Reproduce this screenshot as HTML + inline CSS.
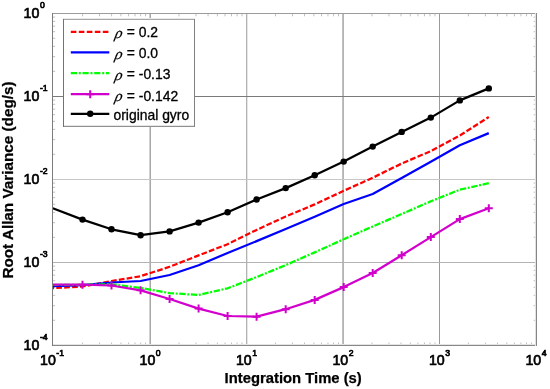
<!DOCTYPE html>
<html><head><meta charset="utf-8"><title>Root Allan Variance</title>
<style>html,body{margin:0;padding:0;background:#fff}svg{display:block}</style></head>
<body>
<svg width="550" height="389" viewBox="0 0 550 389">
<rect width="550" height="389" fill="#fff"/>
<rect x="149" y="13.6" width="1" height="331.6" fill="#d0d0d0"/>
<rect x="150" y="13.6" width="1" height="331.6" fill="#a8a8a8"/>
<rect x="246" y="13.6" width="1" height="331.6" fill="#b2b2b2"/>
<rect x="247" y="13.6" width="1" height="331.6" fill="#e6e6e6"/>
<rect x="342" y="13.6" width="1" height="331.6" fill="#c0c0c0"/>
<rect x="343" y="13.6" width="1" height="331.6" fill="#b4b4b4"/>
<rect x="439" y="13.6" width="1" height="331.6" fill="#9a9a9a"/>
<rect x="52.5" y="96" width="483.8" height="1" fill="#7a7a7a"/>
<rect x="52.5" y="179" width="483.8" height="1" fill="#c6c6c6"/>
<rect x="52.5" y="262" width="483.8" height="1" fill="#b2b2b2"/>
<g stroke="#b0b0b0" stroke-width="0.8" fill="none">
<path d="M82.54 345.2v-2.7M82.54 13.6v2.7"/>
<path d="M99.53 345.2v-2.7M99.53 13.6v2.7"/>
<path d="M111.58 345.2v-2.7M111.58 13.6v2.7"/>
<path d="M120.93 345.2v-2.7M120.93 13.6v2.7"/>
<path d="M128.57 345.2v-2.7M128.57 13.6v2.7"/>
<path d="M135.03 345.2v-2.7M135.03 13.6v2.7"/>
<path d="M140.62 345.2v-2.7M140.62 13.6v2.7"/>
<path d="M145.56 345.2v-2.7M145.56 13.6v2.7"/>
<path d="M179.01 345.2v-2.7M179.01 13.6v2.7"/>
<path d="M196.00 345.2v-2.7M196.00 13.6v2.7"/>
<path d="M208.05 345.2v-2.7M208.05 13.6v2.7"/>
<path d="M217.40 345.2v-2.7M217.40 13.6v2.7"/>
<path d="M225.04 345.2v-2.7M225.04 13.6v2.7"/>
<path d="M231.50 345.2v-2.7M231.50 13.6v2.7"/>
<path d="M237.09 345.2v-2.7M237.09 13.6v2.7"/>
<path d="M242.03 345.2v-2.7M242.03 13.6v2.7"/>
<path d="M275.48 345.2v-2.7M275.48 13.6v2.7"/>
<path d="M292.47 345.2v-2.7M292.47 13.6v2.7"/>
<path d="M304.52 345.2v-2.7M304.52 13.6v2.7"/>
<path d="M313.87 345.2v-2.7M313.87 13.6v2.7"/>
<path d="M321.51 345.2v-2.7M321.51 13.6v2.7"/>
<path d="M327.97 345.2v-2.7M327.97 13.6v2.7"/>
<path d="M333.56 345.2v-2.7M333.56 13.6v2.7"/>
<path d="M338.50 345.2v-2.7M338.50 13.6v2.7"/>
<path d="M371.95 345.2v-2.7M371.95 13.6v2.7"/>
<path d="M388.94 345.2v-2.7M388.94 13.6v2.7"/>
<path d="M400.99 345.2v-2.7M400.99 13.6v2.7"/>
<path d="M410.34 345.2v-2.7M410.34 13.6v2.7"/>
<path d="M417.98 345.2v-2.7M417.98 13.6v2.7"/>
<path d="M424.44 345.2v-2.7M424.44 13.6v2.7"/>
<path d="M430.03 345.2v-2.7M430.03 13.6v2.7"/>
<path d="M434.97 345.2v-2.7M434.97 13.6v2.7"/>
<path d="M468.42 345.2v-2.7M468.42 13.6v2.7"/>
<path d="M485.41 345.2v-2.7M485.41 13.6v2.7"/>
<path d="M497.46 345.2v-2.7M497.46 13.6v2.7"/>
<path d="M506.81 345.2v-2.7M506.81 13.6v2.7"/>
<path d="M514.45 345.2v-2.7M514.45 13.6v2.7"/>
<path d="M520.91 345.2v-2.7M520.91 13.6v2.7"/>
<path d="M526.50 345.2v-2.7M526.50 13.6v2.7"/>
<path d="M531.44 345.2v-2.7M531.44 13.6v2.7"/>
<path d="M52.5 320.31h2.7M536.3 320.31h-2.7"/>
<path d="M52.5 305.70h2.7M536.3 305.70h-2.7"/>
<path d="M52.5 295.33h2.7M536.3 295.33h-2.7"/>
<path d="M52.5 287.29h2.7M536.3 287.29h-2.7"/>
<path d="M52.5 280.71h2.7M536.3 280.71h-2.7"/>
<path d="M52.5 275.16h2.7M536.3 275.16h-2.7"/>
<path d="M52.5 270.34h2.7M536.3 270.34h-2.7"/>
<path d="M52.5 266.10h2.7M536.3 266.10h-2.7"/>
<path d="M52.5 237.31h2.7M536.3 237.31h-2.7"/>
<path d="M52.5 222.70h2.7M536.3 222.70h-2.7"/>
<path d="M52.5 212.33h2.7M536.3 212.33h-2.7"/>
<path d="M52.5 204.29h2.7M536.3 204.29h-2.7"/>
<path d="M52.5 197.71h2.7M536.3 197.71h-2.7"/>
<path d="M52.5 192.16h2.7M536.3 192.16h-2.7"/>
<path d="M52.5 187.34h2.7M536.3 187.34h-2.7"/>
<path d="M52.5 183.10h2.7M536.3 183.10h-2.7"/>
<path d="M52.5 154.31h2.7M536.3 154.31h-2.7"/>
<path d="M52.5 139.70h2.7M536.3 139.70h-2.7"/>
<path d="M52.5 129.33h2.7M536.3 129.33h-2.7"/>
<path d="M52.5 121.29h2.7M536.3 121.29h-2.7"/>
<path d="M52.5 114.71h2.7M536.3 114.71h-2.7"/>
<path d="M52.5 109.16h2.7M536.3 109.16h-2.7"/>
<path d="M52.5 104.34h2.7M536.3 104.34h-2.7"/>
<path d="M52.5 100.10h2.7M536.3 100.10h-2.7"/>
<path d="M52.5 71.31h2.7M536.3 71.31h-2.7"/>
<path d="M52.5 56.70h2.7M536.3 56.70h-2.7"/>
<path d="M52.5 46.33h2.7M536.3 46.33h-2.7"/>
<path d="M52.5 38.29h2.7M536.3 38.29h-2.7"/>
<path d="M52.5 31.71h2.7M536.3 31.71h-2.7"/>
<path d="M52.5 26.16h2.7M536.3 26.16h-2.7"/>
<path d="M52.5 21.34h2.7M536.3 21.34h-2.7"/>
<path d="M52.5 17.10h2.7M536.3 17.10h-2.7"/>
</g>
<g fill="none" stroke-width="2.25" stroke-linejoin="round">
<polyline points="52.8,288.2 82.5,286.5 111.5,281.1 140.6,276.2 169.6,266.8 198.6,255.4 227.6,244.2 256.6,229.9 285.7,216.5 314.7,204.4 343.7,190.8 372.7,177.8 401.7,163.5 430.8,151.1 459.8,135.6 488.8,117.0" stroke="#ff0000" stroke-dasharray="5.7 2.2" stroke-dashoffset="4.4"/>
<polyline points="52.8,286.2 82.5,285.2 111.5,282.5 140.6,281.0 169.6,275.0 198.6,265.2 227.6,253.0 256.6,241.1 285.7,229.0 314.7,216.8 343.7,204.0 372.7,194.0 401.7,178.0 430.8,161.7 459.8,145.3 488.8,133.1" stroke="#0000ff"/>
<polyline points="52.8,285.0 82.5,284.8 111.5,284.3 140.6,287.9 169.6,293.1 198.6,295.0 227.6,288.3 256.6,277.1 285.7,265.1 314.7,252.4 343.7,239.2 372.7,226.5 401.7,214.0 430.8,201.3 459.8,189.7 488.8,183.2" stroke="#00ff00" stroke-dasharray="6.4 1.6 2 1.6" stroke-dashoffset="0.4"/>
<polyline points="52.8,284.7 82.5,284.7 111.5,285.5 140.6,290.3 169.6,299.0 198.6,308.6 227.6,316.0 256.6,316.7 285.7,309.2 314.7,299.9 343.7,287.1 372.7,273.0 401.7,255.2 430.8,237.1 459.8,219.1 488.8,208.2" stroke="#d200cc"/>
<path d="M78.5 284.7h8M82.5 280.7v8M107.5 285.5h8M111.5 281.5v8M136.6 290.3h8M140.6 286.3v8M165.6 299.0h8M169.6 295.0v8M194.6 308.6h8M198.6 304.6v8M223.6 316.0h8M227.6 312.0v8M252.6 316.7h8M256.6 312.7v8M281.7 309.2h8M285.7 305.2v8M310.7 299.9h8M314.7 295.9v8M339.7 287.1h8M343.7 283.1v8M368.7 273.0h8M372.7 269.0v8M397.7 255.2h8M401.7 251.2v8M426.8 237.1h8M430.8 233.1v8M455.8 219.1h8M459.8 215.1v8M484.8 208.2h8M488.8 204.2v8" stroke="#d200cc" stroke-width="2"/>
<polyline points="52.8,208.2 82.5,219.6 111.5,229.3 140.6,235.2 169.6,231.4 198.6,222.6 227.6,212.2 256.6,199.5 285.7,188.1 314.7,175.3 343.7,161.6 372.7,146.6 401.7,131.9 430.8,117.6 459.8,100.4 488.8,88.4" stroke="#000"/>
</g>
<g fill="#000">
<circle cx="82.5" cy="219.6" r="3.2"/>
<circle cx="111.5" cy="229.3" r="3.2"/>
<circle cx="140.6" cy="235.2" r="3.2"/>
<circle cx="169.6" cy="231.4" r="3.2"/>
<circle cx="198.6" cy="222.6" r="3.2"/>
<circle cx="227.6" cy="212.2" r="3.2"/>
<circle cx="256.6" cy="199.5" r="3.2"/>
<circle cx="285.7" cy="188.1" r="3.2"/>
<circle cx="314.7" cy="175.3" r="3.2"/>
<circle cx="343.7" cy="161.6" r="3.2"/>
<circle cx="372.7" cy="146.6" r="3.2"/>
<circle cx="401.7" cy="131.9" r="3.2"/>
<circle cx="430.8" cy="117.6" r="3.2"/>
<circle cx="459.8" cy="100.4" r="3.2"/>
<circle cx="488.8" cy="88.4" r="3.2"/>
</g>
<rect x="52" y="13" width="485" height="1" fill="#9c9c9c"/>
<rect x="52" y="344" width="485" height="1" fill="#e4e4e4"/>
<rect x="52" y="345" width="485" height="1" fill="#888888"/>
<rect x="535" y="13" width="1" height="333" fill="#e2e2e2"/>
<rect x="536" y="13" width="1" height="333" fill="#868686"/>
<rect x="52" y="13" width="1" height="333" fill="#7c7c7c"/>
<rect x="63" y="19" width="132" height="108" fill="#fff"/>
<rect x="63" y="18" width="132" height="1" fill="#e8e8e8"/>
<rect x="63" y="19" width="132" height="1" fill="#a8a8a8"/>
<rect x="63" y="126" width="132" height="1" fill="#909090"/>
<rect x="63" y="125" width="132" height="1" fill="#e6e6e6"/>
<rect x="63" y="19" width="1" height="108" fill="#727272"/>
<rect x="194" y="19" width="1" height="108" fill="#808080"/>
<g fill="none" stroke-width="2.25">
<line x1="70.8" y1="31.8" x2="109.3" y2="31.8" stroke="#ff0000" stroke-dasharray="5.6 2.4"/>
<line x1="70.8" y1="52.4" x2="109.3" y2="52.4" stroke="#0000ff"/>
<line x1="70.8" y1="73.2" x2="109.3" y2="73.2" stroke="#00ff00" stroke-dasharray="6.2 1.8 2 1.7"/>
<line x1="70.8" y1="94.2" x2="109.3" y2="94.2" stroke="#d200cc"/>
<path d="M86.2 94.2h8M90.2 90.2v8" stroke="#d200cc" stroke-width="2"/>
<line x1="70.8" y1="113.8" x2="109.3" y2="113.8" stroke="#000"/>
</g>
<circle cx="90.2" cy="113.8" r="3.2" fill="#000"/>
<g font-family="'Liberation Sans', Arial, sans-serif" font-size="13.9" fill="#000" stroke="#000" stroke-width="0.3">
<text transform="translate(113.6 37.6) skewX(-21)" font-family="'Liberation Serif', serif" font-size="15.5" stroke-width="0.2">ρ</text>
<text x="126.8" y="37.0">= 0.2</text>
<text transform="translate(113.6 58.6) skewX(-21)" font-family="'Liberation Serif', serif" font-size="15.5" stroke-width="0.2">ρ</text>
<text x="126.8" y="58.0">= 0.0</text>
<text transform="translate(113.6 79.6) skewX(-21)" font-family="'Liberation Serif', serif" font-size="15.5" stroke-width="0.2">ρ</text>
<text x="126.8" y="79.0">= -0.13</text>
<text transform="translate(113.6 101.2) skewX(-21)" font-family="'Liberation Serif', serif" font-size="15.5" stroke-width="0.2">ρ</text>
<text x="126.8" y="100.6">= -0.142</text>
<text x="113.5" y="120.1">original gyro</text>
</g>
<g font-family="'Liberation Sans', Arial, sans-serif" font-size="14.2" fill="#000" stroke="#000" stroke-width="0.65">
<text x="23.6" y="17.5">10<tspan font-size="8.7" dy="-9.1" dx="0.5">0</tspan></text>
<text x="23.6" y="100.5">10<tspan font-size="8.7" dy="-9.1" dx="0.5">-1</tspan></text>
<text x="23.6" y="183.5">10<tspan font-size="8.7" dy="-9.1" dx="0.5">-2</tspan></text>
<text x="23.6" y="266.5">10<tspan font-size="8.7" dy="-9.1" dx="0.5">-3</tspan></text>
<text x="23.6" y="349.5">10<tspan font-size="8.7" dy="-9.1" dx="0.5">-4</tspan></text>
<text x="40.0" y="364.6">10<tspan font-size="8.7" dy="-9.1" dx="0.5">-1</tspan></text>
<text x="139.5" y="364.6">10<tspan font-size="8.7" dy="-9.1" dx="0.5">0</tspan></text>
<text x="235.9" y="364.6">10<tspan font-size="8.7" dy="-9.1" dx="0.5">1</tspan></text>
<text x="332.4" y="364.6">10<tspan font-size="8.7" dy="-9.1" dx="0.5">2</tspan></text>
<text x="428.9" y="364.6">10<tspan font-size="8.7" dy="-9.1" dx="0.5">3</tspan></text>
<text x="525.4" y="364.6">10<tspan font-size="8.7" dy="-9.1" dx="0.5">4</tspan></text>
</g>
<g font-family="'Liberation Sans', Arial, sans-serif" font-size="14.3" font-weight="bold" fill="#000" stroke="#000" stroke-width="0.25">
<text x="224.6" y="382.8" textLength="137.2" lengthAdjust="spacingAndGlyphs">Integration Time (s)</text>
<text transform="translate(13.0 278.6) rotate(-90)" textLength="197.2" lengthAdjust="spacingAndGlyphs">Root Allan Variance (deg/s)</text>
</g>
</svg>
</body></html>
